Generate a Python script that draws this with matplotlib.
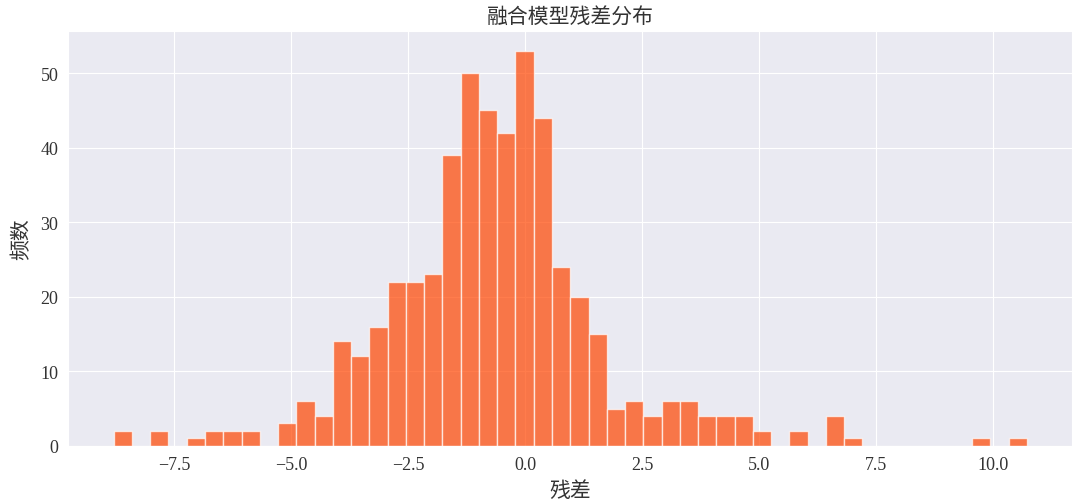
import matplotlib
matplotlib.use('Agg')
import matplotlib.pyplot as plt
import seaborn as sns
import numpy as np

# ========== HISTOGRAM DATA ==========
RES_MIN = -8.80   # left edge of first bin
RES_MAX = 10.73   # right edge of last bin
N_BINS = 50

# counts per bin, left to right
counts = [2, 0, 2, 0, 1, 2, 2, 2, 0, 3,
          6, 4, 14, 12, 16, 22, 22, 23, 39, 50,
          45, 42, 53, 44, 24, 20, 15, 5, 6, 4,
          6, 6, 4, 4, 4, 2, 0, 2, 0, 4,
          1, 0, 0, 0, 0, 0, 0, 1, 0, 1]

sns.set_style('darkgrid')
plt.rcParams['font.family'] = ['Liberation Serif', 'Noto Sans CJK SC']
plt.rcParams['axes.unicode_minus'] = True

edges = np.linspace(RES_MIN, RES_MAX, N_BINS + 1)
centers = (edges[:-1] + edges[1:]) / 2

fig, ax = plt.subplots(figsize=(10.8, 5.02), dpi=100)
ax.hist(centers, bins=edges, weights=counts, color='orangered', alpha=0.7,
        edgecolor='white', linewidth=1)

ax.set_title('融合模型残差分布', fontsize=15, color='#333333')
ax.set_xlabel('残差', fontsize=15, color='#333333', labelpad=6)
ax.set_ylabel('频数', fontsize=15, color='#333333', labelpad=6)
ax.tick_params(labelsize=13, colors='#333333')

plt.subplots_adjust(left=0.063, right=0.993, top=0.936, bottom=0.11)
plt.savefig('out.png', dpi=100)
